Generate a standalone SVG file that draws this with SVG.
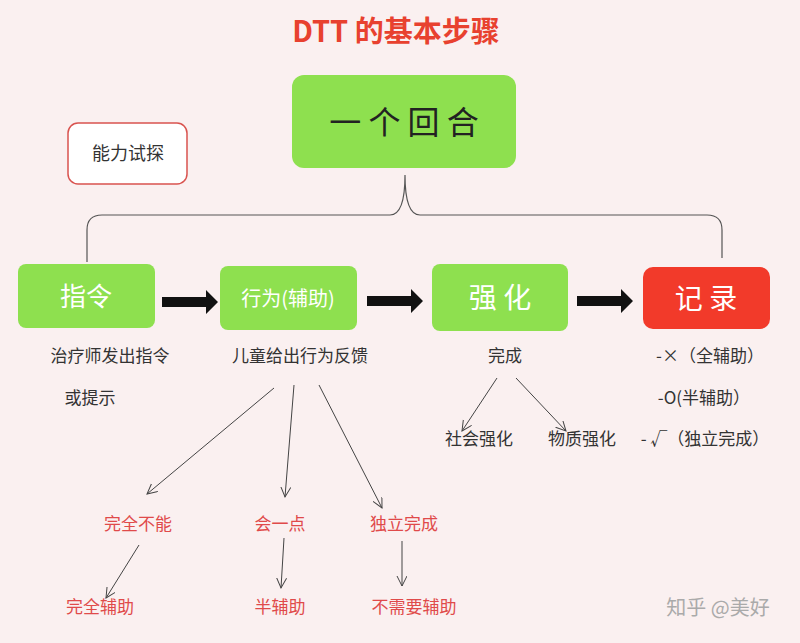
<svg xmlns="http://www.w3.org/2000/svg" width="800" height="643" viewBox="0 0 800 643">
<style>
text{font-family:"Noto Sans CJK SC","Liberation Sans",sans-serif;text-anchor:middle}
.g{fill:#8ee04f}
.w{fill:#fff}
.b{fill:#333;font-size:17px}
.r{fill:#e04a4a;font-size:17px}
.ln{stroke:#444;stroke-width:1;fill:none;marker-end:url(#a)}
</style>
<defs>
<marker id="a" markerWidth="12" markerHeight="12" refX="10" refY="5" orient="auto" markerUnits="userSpaceOnUse"><path d="M0,0 L10,5 L0,10" fill="none" stroke="#444"/></marker>
<path id="big" d="M0,-5 H44 V-12 L56,0 L44,12 V5 H0 Z" fill="#111"/>
</defs>
<rect width="800" height="643" fill="#faf0f0"/>
<text x="396" y="42" style="font-size:29px;font-weight:bold;fill:#e8412f">DTT 的基本步骤</text>
<g id="round"><rect x="292" y="75" width="224" height="93" rx="12" class="g"/><text x="404" y="134" style="font-size:32px;fill:#222">一 个 回 合</text></g>
<g id="probe"><rect x="68" y="123" width="119" height="61" rx="10" fill="#fff" stroke="#d9534f" stroke-width="1.5"/><text x="128" y="160" class="b" style="font-size:18px">能力试探</text></g>
<g id="n1"><rect x="18" y="264" width="137" height="64" rx="8" class="g"/><text x="86" y="306" class="w" style="font-size:26px">指令</text></g>
<g id="n2"><rect x="220" y="266" width="137" height="64" rx="8" class="g"/><text x="288" y="306" class="w" style="font-size:20px">行为(辅助)</text></g>
<g id="n3"><rect x="432" y="264" width="136" height="67" rx="8" class="g"/><text x="500" y="308" class="w" style="font-size:28px">强 化</text></g>
<g id="n4"><rect x="643" y="267" width="127" height="62" rx="10" fill="#f23a2a"/><text x="706" y="309" class="w" style="font-size:28px">记 录</text></g>
<g id="labels">
<text x="110" y="362" class="b">治疗师发出指令</text>
<text x="90" y="404" class="b">或提示</text>
<text x="300" y="362" class="b">儿童给出行为反馈</text>
<text x="505" y="362" class="b">完成</text>
<text x="479" y="445" class="b">社会强化</text>
<text x="582" y="445" class="b">物质强化</text>
<text x="710" y="362" class="b">-×（全辅助）</text>
<text x="704" y="404" class="b">-O(半辅助）</text>
<text x="705" y="445" class="b">- √（独立完成）</text>
<text x="138" y="530" class="r">完全不能</text>
<text x="280" y="530" class="r">会一点</text>
<text x="404" y="530" class="r">独立完成</text>
<text x="100" y="613" class="r">完全辅助</text>
<text x="280" y="613" class="r">半辅助</text>
<text x="414" y="613" class="r">不需要辅助</text>
<text x="718" y="615" style="font-size:20px;fill:#aaa">知乎 @美好</text>
</g>
<g id="connectors">
<path d="M87,262 V230 Q87,215 102,215 H390 Q405,215 405,175 Q405,215 420,215 H707 Q722,215 722,230 V258" fill="none" stroke="#555" stroke-width="1.2"/>
<use href="#big" x="162" y="302"/>
<use href="#big" x="367" y="301"/>
<use href="#big" x="577" y="301"/>
<path class="ln" d="M274,388 L147,494"/>
<path class="ln" d="M294,385 L285,497"/>
<path class="ln" d="M319,385 L382,508"/>
<path class="ln" d="M497,378 L462,431"/>
<path class="ln" d="M516,378 L566,431"/>
<path class="ln" d="M139,545 L106,598"/>
<path class="ln" d="M284,538 L281,588"/>
<path class="ln" d="M402,541 L402,586"/>
</g>
</svg>
